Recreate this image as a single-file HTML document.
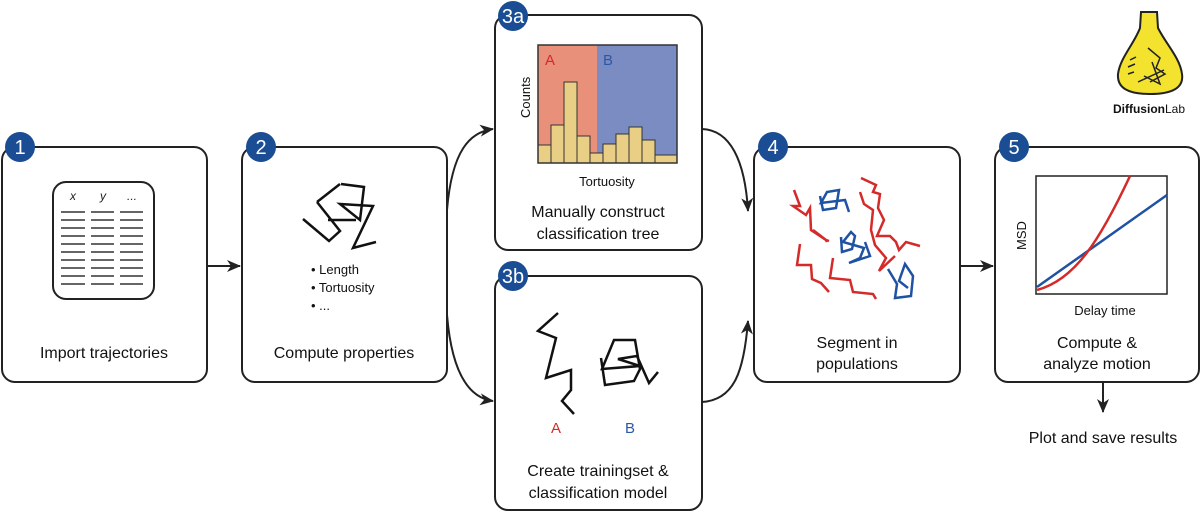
<!DOCTYPE html>
<html><head><meta charset="utf-8"><style>
body{margin:0;background:#fff;}
svg{display:block;font-family:"Liberation Sans",Arial,sans-serif;}
</style></head><body>
<svg width="1200" height="513" viewBox="0 0 1200 513" xmlns="http://www.w3.org/2000/svg">
<defs>
<marker id="ah" markerWidth="14" markerHeight="12" refX="13" refY="6" orient="auto" markerUnits="userSpaceOnUse">
<path d="M0,0 L14,6 L0,12 L4,6 Z" fill="#222"/></marker>
</defs>
<g fill="none" stroke="#222" stroke-width="2">
<rect x="2" y="147" width="205" height="235" rx="13"/>
<rect x="242" y="147" width="205" height="235" rx="13"/>
<rect x="495" y="15" width="207" height="235" rx="13"/>
<rect x="495" y="276" width="207" height="234" rx="13"/>
<rect x="754" y="147" width="206" height="235" rx="13"/>
<rect x="995" y="147" width="204" height="235" rx="13"/>
<path d="M207,266 L240,266" marker-end="url(#ah)"/>
<path d="M960,266 L993,266" marker-end="url(#ah)"/>
<path d="M447,210 C452,150 470,132 493,129" marker-end="url(#ah)"/>
<path d="M447,315 C452,375 470,398 493,401" marker-end="url(#ah)"/>
<path d="M702,129 C730,130 745,160 748,211" marker-end="url(#ah)"/>
<path d="M702,402 C735,400 744,370 748,321" marker-end="url(#ah)"/>
<path d="M1103,382 L1103,412" marker-end="url(#ah)"/>
</g>
<g fill="#1a4d94">
<circle cx="20" cy="147" r="15"/><circle cx="261" cy="147" r="15"/>
<circle cx="513" cy="16" r="15"/><circle cx="513" cy="276" r="15"/>
<circle cx="773" cy="147" r="15"/><circle cx="1014" cy="147" r="15"/>
</g>
<g fill="#fff" font-size="20" text-anchor="middle">
<text x="20" y="154">1</text><text x="261" y="154">2</text>
<text x="513" y="23">3a</text><text x="513" y="283">3b</text>
<text x="773" y="154">4</text><text x="1014" y="154">5</text>
</g>
<rect x="53" y="182" width="101" height="117" rx="13" fill="none" stroke="#222" stroke-width="2"/>
<g font-size="12" font-style="italic" fill="#222" text-anchor="middle"><text x="73" y="200">x</text><text x="103" y="200">y</text><text x="132" y="200">...</text></g>
<g stroke="#333" stroke-width="1.5">
<path d="M61,212h24M61,220h24M61,228h24M61,236h24M61,244h24M61,252h24M61,260h24M61,268h24M61,276h24M61,284h24"/>
<path d="M91,212h23M91,220h23M91,228h23M91,236h23M91,244h23M91,252h23M91,260h23M91,268h23M91,276h23M91,284h23"/>
<path d="M120,212h23M120,220h23M120,228h23M120,236h23M120,244h23M120,252h23M120,260h23M120,268h23M120,276h23M120,284h23"/>
</g>
<g font-size="16" fill="#111" text-anchor="middle">
<text x="104" y="358">Import trajectories</text>
<text x="344" y="358">Compute properties</text>
<text x="598" y="217">Manually construct</text><text x="598" y="239">classification tree</text>
<text x="598" y="476">Create trainingset &amp;</text><text x="598" y="498">classification model</text>
<text x="857" y="348">Segment in</text><text x="857" y="369">populations</text>
<text x="1097" y="348">Compute &amp;</text><text x="1097" y="369">analyze motion</text>
<text x="1103" y="443">Plot and save results</text>
</g>
<path d="M341,184 L364,187 L360,220 L340,204 L373,206 L353,248 L376,242 M356,220 L328,220 M317,202 L340,184 M303,219 L329,241 L340,231 L317,202" fill="none" stroke="#111" stroke-width="2.5"/>
<g font-size="13" fill="#111"><text x="311" y="274">• Length</text><text x="311" y="292">• Tortuosity</text><text x="311" y="310">• ...</text></g>
<rect x="538" y="45" width="59" height="118" fill="#e8907a"/>
<rect x="597" y="45" width="80" height="118" fill="#7b8cc2"/>
<g fill="#e8cf85" stroke="#333" stroke-width="1">
<rect x="538" y="145" width="13" height="18"/><rect x="551" y="125" width="13" height="38"/>
<rect x="564" y="82" width="13" height="81"/><rect x="577" y="136" width="13" height="27"/>
<rect x="590" y="153" width="13" height="10"/><rect x="603" y="144" width="13" height="19"/>
<rect x="616" y="134" width="13" height="29"/><rect x="629" y="127" width="13" height="36"/>
<rect x="642" y="140" width="13" height="23"/><rect x="655" y="155" width="22" height="8"/>
</g>
<rect x="538" y="45" width="139" height="118" fill="none" stroke="#333" stroke-width="1.5"/>
<text x="545" y="65" font-size="15" fill="#d42a2a">A</text>
<text x="603" y="65" font-size="15" fill="#2b58a6">B</text>
<text x="530" y="118" font-size="13" fill="#111" transform="rotate(-90 530 118)">Counts</text>
<text x="607" y="186" font-size="13" fill="#111" text-anchor="middle">Tortuosity</text>
<path d="M558,313 L538,331 L556,338 L546,378 L571,370 L571,390 L562,401 L574,414" fill="none" stroke="#111" stroke-width="2.5"/>
<path d="M601,358 L605,385 L634,381 L640,369 L635,340 L614,340 L602,369 L640,366 L618,359 L637,356 L649,383 L658,372" fill="none" stroke="#111" stroke-width="2.5"/>
<text x="556" y="433" font-size="15" fill="#d42a2a" text-anchor="middle">A</text>
<text x="630" y="433" font-size="15" fill="#2b58a6" text-anchor="middle">B</text>
<g fill="none" stroke="#d42a2a" stroke-width="2.5">
<path d="M794,190 L800,206 L793,206 L806,215 L810,208 L811,230 L826,240 L827,242 M813,230 L826,240 L829,241"/>
<path d="M861,178 L876,185 L873,192 L880,194 L878,208 L884,220 L877,236 L890,236 L896,242 L899,250 L906,242 L920,246"/>
<path d="M860,192 L864,204 L873,210 L871,230 L875,245 L886,258 L879,271 L895,256"/>
<path d="M800,244 L797,265 L811,265 L812,279 L821,283 L829,292"/>
<path d="M833,258 L830,278 L850,280 L853,292 L873,294 L876,299"/>
</g>
<g fill="none" stroke="#1f52a3" stroke-width="2.5">
<path d="M820,196 L823,210 L836,208 L839,190 L827,192 L821,203 L845,200 L849,212"/>
<path d="M841,237 L842,252 L852,249 L855,236 L851,232 L843,242 L864,248 L860,258 L849,263 L870,256 L865,242"/>
<path d="M888,269 L897,284 L895,298 L911,296 L913,276 L905,264 L899,281 L908,288"/>
</g>
<rect x="1036" y="176" width="131" height="118" fill="none" stroke="#222" stroke-width="1.5"/>
<path d="M1037,287 L1167,195" stroke="#1f52a3" stroke-width="2.5" fill="none"/>
<path d="M1037,290 C1075,280 1100,240 1130,176" stroke="#d42a2a" stroke-width="2.5" fill="none"/>
<text x="1026" y="250" font-size="13" fill="#111" transform="rotate(-90 1026 250)">MSD</text>
<text x="1105" y="315" font-size="13" fill="#111" text-anchor="middle">Delay time</text>
<path d="M1141,12 L1157,12 L1158,28 C1166,44 1180,58 1182,74 C1184,88 1172,94 1150,94 C1128,94 1117,88 1118,74 C1120,58 1134,44 1140,28 Z" fill="#f3e32e" stroke="#222" stroke-width="2"/>
<path d="M1148,48 L1160,58 L1156,68 L1165,74 L1150,82 M1138,82 L1164,70 M1152,62 L1160,84 L1144,76" fill="none" stroke="#222" stroke-width="1.5"/>
<path d="M1130,60 l6,-3 M1128,67 l7,-3 M1128,74 l6,-2" stroke="#222" stroke-width="1.5"/>
<text x="1149" y="113" font-size="12" fill="#111" text-anchor="middle"><tspan font-weight="bold">Diffusion</tspan>Lab</text>
</svg>
</body></html>
